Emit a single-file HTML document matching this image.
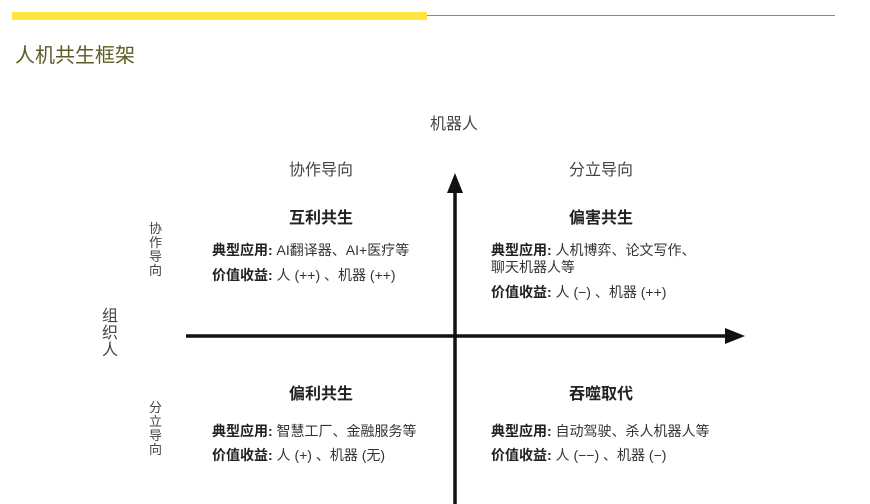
<!DOCTYPE html>
<html><head><meta charset="utf-8"><style>
body{margin:0;width:870px;height:504px;background:#fff;position:relative;overflow:hidden;font-family:"Liberation Sans","Noto Sans CJK SC",sans-serif;color:#333}
.a{position:absolute;white-space:nowrap}
.c{transform:translateX(-50%)}
.h{font-size:16px;font-weight:bold;color:#222}
.t{font-size:14px;color:#333}
.t b{color:#222}
.v{font-size:13px;line-height:14px;width:14px;color:#444}
</style></head><body>
<div class="a" style="left:12px;top:12px;width:415px;height:8px;background:#ffe53b"></div>
<div class="a" style="left:427px;top:15px;width:408px;height:1px;background:#888"></div>
<div class="a" style="left:15px;top:39px;font-size:20px;color:#5c5c24">人机共生框架</div>
<svg class="a" style="left:0;top:0" width="870" height="504">
<line x1="455" y1="190" x2="455" y2="504" stroke="#111" stroke-width="3.5"/>
<polygon points="455,173 447,193 463,193" fill="#111"/>
<line x1="186" y1="336" x2="728" y2="336" stroke="#111" stroke-width="3.5"/>
<polygon points="745,336 725,328 725,344" fill="#111"/>
</svg>
<div class="a c" style="left:454px;top:110px;font-size:16px;color:#444">机器人</div>
<div class="a c" style="left:321px;top:156px;font-size:16px;color:#444">协作导向</div>
<div class="a c" style="left:601px;top:156px;font-size:16px;color:#444">分立导向</div>
<div class="a c h" style="left:321px;top:204px">互利共生</div>
<div class="a c h" style="left:601px;top:204px">偏害共生</div>
<div class="a c h" style="left:321px;top:380px">偏利共生</div>
<div class="a c h" style="left:601px;top:380px">吞噬取代</div>
<div class="a t" style="left:212px;top:240px"><b>典型应用:</b> AI翻译器、AI+医疗等</div>
<div class="a t" style="left:212px;top:265px"><b>价值收益:</b> 人 (++) 、机器 (++)</div>
<div class="a t" style="left:491px;top:240px"><b>典型应用:</b> 人机博弈、论文写作、</div>
<div class="a t" style="left:491px;top:257px">聊天机器人等</div>
<div class="a t" style="left:491px;top:282px"><b>价值收益:</b> 人 (−) 、机器 (++)</div>
<div class="a t" style="left:212px;top:421px"><b>典型应用:</b> 智慧工厂、金融服务等</div>
<div class="a t" style="left:212px;top:445px"><b>价值收益:</b> 人 (+) 、机器 (无)</div>
<div class="a t" style="left:491px;top:421px"><b>典型应用:</b> 自动驾驶、杀人机器人等</div>
<div class="a t" style="left:491px;top:445px"><b>价值收益:</b> 人 (−−) 、机器 (−)</div>
<div class="a v" style="left:149px;top:222px;white-space:normal">协作导向</div>
<div class="a v" style="left:149px;top:401px;white-space:normal">分立导向</div>
<div class="a" style="left:102px;top:308px;font-size:16px;line-height:17px;width:17px;white-space:normal;color:#444">组织人</div>
</body></html>
